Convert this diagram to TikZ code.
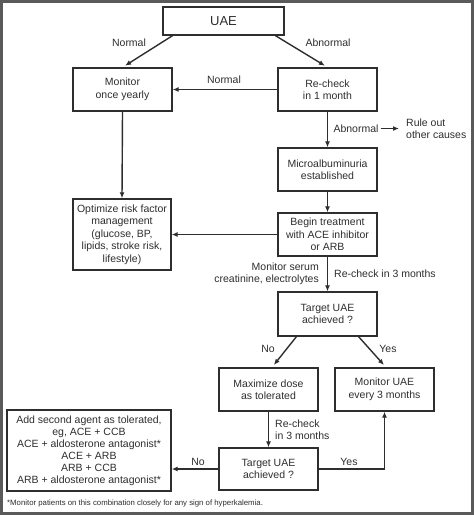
\documentclass[tikz,border=0pt]{standalone}
\usepackage{fontspec}
\setmainfont{Liberation Sans}
\usepackage{xcolor}
\usepackage{tikz}
\usetikzlibrary{arrows.meta,positioning,calc}
\definecolor{inkgray}{HTML}{2E2E2E}
\definecolor{framegray}{HTML}{5A5A5A}

\begin{document}
\begin{tikzpicture}[x=1pt, y=-1pt,
  box/.style={rectangle, draw=inkgray, line width=1.4pt, text=inkgray,
              minimum width=99pt, minimum height=43pt, align=center, inner sep=2pt,
              font=\fontsize{10.5}{12.5}\selectfont},
  lbl/.style={text=inkgray, align=center, inner sep=1pt, font=\fontsize{10.5}{12.5}\selectfont},
  flow/.style={draw=inkgray, line width=1.4pt, -{Latex[length=6pt,width=5pt]}}
]
  % frame
  \fill[framegray] (0,0) rectangle (474,515);
  \fill[white] (2.5,2.5) rectangle (470.5,511.5);

  \node[box, minimum width=121pt, minimum height=28pt, font=\fontsize{13}{15}\selectfont] (uae) at (223.5,21) {UAE};
  \node[box] (monitor) at (122.5,89.5) {Monitor\\once yearly};
  \node[box] (recheck) at (327.5,89.5) {Re-check\\in 1 month};
  \node[box] (micro) at (327.5,169.5) {Microalbuminuria\\established};
  \node[box] (begin) at (327.5,234.5) {Begin treatment\\with ACE inhibitor\\or ARB};
  \node[box, minimum width=98pt, minimum height=71pt] (optimize) at (122,234.5)
    {Optimize risk factor\\management\\(glucose, BP,\\lipids, stroke risk,\\lifestyle)};
  \node[box, minimum height=44pt] (target1) at (327.5,314) {Target UAE\\achieved ?};
  \node[box] (maxdose) at (268.5,389.5) {Maximize dose\\as tolerated};
  \node[box] (monuae) at (384.5,389.5) {Monitor UAE\\every 3 months};
  \node[box, minimum height=42pt] (target2) at (268.5,469) {Target UAE\\achieved ?};
  \node[box, minimum width=164pt, minimum height=81pt, font=\fontsize{10.5}{12}\selectfont] (addagent) at (89,450.5)
    {Add second agent as tolerated,\\eg, ACE + CCB\\ACE + aldosterone antagonist*\\ACE + ARB\\ARB + CCB\\ARB + aldosterone antagonist*};

  % labels
  \node[lbl] (lnorm1) at (129,43) {Normal};
  \node[lbl] (labn1) at (328,43) {Abnormal};
  \node[lbl] (lnorm2) at (224,80) {Normal};
  \node[lbl] (labn2) at (356,128.5) {Abnormal};
  \node[lbl, anchor=west, align=left] (ruleout) at (405,128.5) {Rule out\\other causes};
  \node[lbl, anchor=east, align=right] (lserum) at (320,274) {Monitor serum\\creatinine, electrolytes};
  \node[lbl, anchor=west] (lre3a) at (333,274) {Re-check in 3 months};
  \node[lbl] (lno1) at (268,349) {No};
  \node[lbl] (lyes1) at (388,349) {Yes};
  \node[lbl, anchor=west, align=left] (lre3b) at (274,429.5) {Re-check\\in 3 months};
  \node[lbl] (lno2) at (198,462) {No};
  \node[lbl] (lyes2) at (349,462) {Yes};
  \node[anchor=west, text=inkgray, inner sep=0pt, font=\fontsize{7.8}{9}\selectfont] (note) at (7,503)
    {*Monitor patients on this combination closely for any sign of hyperkalemia.};

  % connectors
  \draw[flow, shorten >=3pt] ($(uae.south west)!0.083!(uae.south east)$) -- (monitor.north);
  \draw[flow, shorten >=3pt] ($(uae.south east)!0.075!(uae.south west)$) -- (recheck.north);
  \draw[flow] (recheck.west) -- (monitor.east);
  \draw[flow] (recheck.south) -- (micro.north);
  \draw[flow, shorten <=1pt, shorten >=6pt] (labn2.east) -- (ruleout.west);
  \draw[flow] (monitor.south) -- (optimize.north);
  \draw[flow] (micro.south) -- (begin.north);
  \draw[flow] (begin.west) -- (optimize.east);
  \draw[flow] (begin.south) -- (target1.north);
  \draw[flow, shorten >=3pt] ($(target1.south west)!0.19!(target1.south east)$) -- ($(maxdose.north)+(3.5,0)$);
  \draw[flow, shorten >=3pt] ($(target1.south east)!0.19!(target1.south west)$) -- ($(monuae.north)+(1.5,0)$);
  \draw[flow] (maxdose.south) -- (target2.north);
  \draw[flow] (target2.west) -- (target2.west -| addagent.east);
  \draw[flow] (target2.east) -| (monuae.south);
\end{tikzpicture}
\end{document}
